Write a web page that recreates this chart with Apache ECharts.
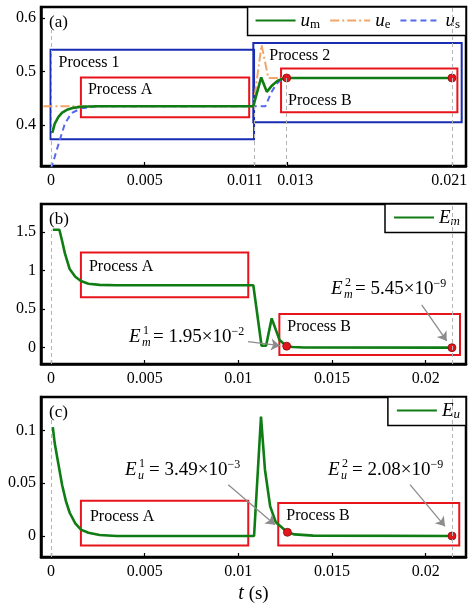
<!DOCTYPE html>
<html>
<head>
<meta charset="utf-8">
<script src="https://cdn.jsdelivr.net/npm/echarts@6.0.0/dist/echarts.min.js"></script>
<style>html,body{margin:0;padding:0;background:#fff}#main{width:474px;height:611px}</style>
</head>
<body>
<div id="main"></div>
<script>
// data, t in seconds
var uM = [[0.00007,0.385],[0.0002,0.402],[0.0004,0.415],[0.0006,0.423],[0.0009,0.429],[0.0012,0.432],[0.0016,0.434],[0.0025,0.435],[0.0108,0.435],[0.01122,0.489],[0.01152,0.462],[0.0118,0.474],[0.0121,0.483],[0.0124,0.487],[0.0128,0.488],[0.0214,0.488]];
var uE = [[-0.0004,0.435],[0.0108,0.435],[0.01124,0.55],[0.0116,0.488],[0.0214,0.488]];
var uS = [[0,0.318],[0.0002,0.34],[0.0005,0.375],[0.00075,0.403],[0.0011,0.422],[0.0016,0.431],[0.0025,0.435],[0.01145,0.435],[0.0116,0.448],[0.01178,0.462],[0.01204,0.477],[0.0123,0.485],[0.0127,0.488],[0.0214,0.488]];
var eM = [[0.0001,1.53],[0.00045,1.53],[0.0006,1.38],[0.00075,1.22],[0.001,1.02],[0.0013,0.92],[0.0016,0.865],[0.002,0.83],[0.0026,0.815],[0.0035,0.81],[0.0108,0.81],[0.01124,0.025],[0.01148,0.025],[0.01178,0.38],[0.0122,0.1],[0.01258,0.0195],[0.0129,0.008],[0.0135,0.002],[0.0214,0]];
var eU = [[0.0001,0.103],[0.0002,0.088],[0.0004,0.068],[0.0006,0.048],[0.0008,0.033],[0.001,0.022],[0.0013,0.012],[0.0016,0.006],[0.002,0.003],[0.0026,0.001],[0.0035,0],[0.01084,0],[0.01121,0.113],[0.01142,0.063],[0.0117,0.028],[0.012,0.013],[0.01262,0.0035],[0.013,0.0015],[0.014,0.0003],[0.0214,0]];
var dotsA = [[0.01258,0.488],[0.0214,0.488]];
var dotsB = [[0.01258,0.0195],[0.0214,0]];
var dotsC = [[0.01262,0.0035],[0.0214,0]];

// ticks
var tickA = [0,0.005,0.01084,0.01262,0.0214];
var labelPosA = [0,0.005,0.01034,0.01304,0.02126];
var labelTextA = ['0','0.005','0.011','0.013','0.021'];
var tickBC = [0,0.005,0.01,0.015,0.02];
var yTickA = [0.4,0.5,0.6];
var yTickB = [0,0.5,1,1.5];
var yTickC = [0,0.05,0.1];

// boxes: name, t0, t1, v0, v1
var blueA = [['Process 1',-0.00002,0.01084,0.3732,0.5407],['Process 2',0.0108,0.02192,0.4051,0.5533]];
var redA = [['Process A',0.0016,0.01058,0.4144,0.4887],['Process B',0.01228,0.02169,0.4238,0.5056]];
var redB = [['Process A',0.0016,0.01053,0.655,1.234],['Process B',0.01219,0.02183,-0.095,0.438]];
var redC = [['Process A',0.0016,0.01053,-0.0089,0.0334],['Process B',0.01213,0.02179,-0.0089,0.0313]];

// gray guide lines: t, v0, v1
var guideA = [[0,0.323,0.578],[0.01084,0.323,0.435],[0.01258,0.323,0.488],[0.0214,0.323,0.621]];
var guideB = [[0,-0.212,1.53],[0.0214,-0.212,1.864]];
var guideC = [[0,-0.0199,0.12],[0.0214,-0.0199,0.1316]];

// arrows: from, to
var arrowB = [[[0.010515,0.078],[0.012223,0.026]],[[0.019786,0.5545],[0.021121,0.087]]];
var arrowC = [[[0.009463,0.0486],[0.011956,0.0107]],[[0.019162,0.0486],[0.02103,0.0091]]];

var FONT = '"Liberation Serif", "Times New Roman", serif';
var GREEN = '#0f7d14', ORANGE = '#f2a566', BLUE = '#5468ee', BOXBLUE = '#1a2db2', BOXRED = '#e8141c';

var myChart = echarts.init(document.getElementById('main'));

function xAxisOf(i, ticks, labels, fmt) {
  return {
    type: 'value', gridIndex: i, min: -0.00053, max: 0.02215,
    splitLine: { show: false },
    axisLine: { show: true, onZero: false, lineStyle: { color: '#000', width: 2.5 } },
    axisTick: { show: true, inside: true, length: 4, customValues: ticks, lineStyle: { color: '#000', width: 1.2 } },
    axisLabel: { customValues: labels, formatter: fmt, fontSize: 16, color: '#000', margin: 7, fontFamily: FONT }
  };
}
function yAxisOf(i, mn, mx, ticks) {
  return {
    type: 'value', gridIndex: i, min: mn, max: mx,
    splitLine: { show: false },
    axisLine: { show: true, onZero: false, lineStyle: { color: '#000', width: 2.5 } },
    axisTick: { show: true, inside: true, length: 4, customValues: ticks, lineStyle: { color: '#000', width: 1.2 } },
    axisLabel: { customValues: ticks, fontSize: 16, color: '#000', margin: 5, fontFamily: FONT }
  };
}
function boxData(list, color, offsets, positions) {
  return list.map(function (b, k) {
    return [{
      coord: [b[1], b[4]],
      itemStyle: { color: 'rgba(0,0,0,0)', borderColor: color, borderWidth: 2 },
      label: { show: true, formatter: b[0], position: positions[k], distance: 0, offset: offsets[k],
        fontSize: 16, color: '#000', fontFamily: FONT }
    }, { coord: [b[2], b[3]] }];
  });
}
function guideData(list) {
  return list.map(function (g) { return [{ coord: [g[0], g[1]] }, { coord: [g[0], g[2]] }]; });
}
function arrowData(list) {
  return list.map(function (a) { return [{ coord: a[0] }, { coord: a[1] }]; });
}
function helper(i, boxes, guides) {
  return {
    type: 'scatter', xAxisIndex: i, yAxisIndex: i, data: [], symbolSize: 0, z: 1, silent: true,
    markArea: { silent: true, data: boxes },
    markLine: { silent: true, symbol: ['none', 'none'], label: { show: false },
      lineStyle: { color: '#b4b4b4', width: 1, type: [4, 3] }, data: guideData(guides) }
  };
}
function dots(i, data, arrows) {
  var s = {
    type: 'scatter', xAxisIndex: i, yAxisIndex: i, data: data, z: 4, symbolSize: 8,
    itemStyle: { color: '#e3161c', borderColor: '#8a0a0a', borderWidth: 0.8, opacity: 1 }
  };
  if (arrows) {
    s.markLine = { silent: true, symbol: ['none', 'arrow'], symbolSize: 9, label: { show: false },
      lineStyle: { color: '#8c8c8c', width: 1.3, type: 'solid' }, data: arrowData(arrows) };
  }
  return s;
}
function curve(i, name, data, color, type, width) {
  return {
    name: name, type: 'line', xAxisIndex: i, yAxisIndex: i, data: data, symbol: 'none', z: 3,
    lineStyle: { color: color, width: width, type: type }, itemStyle: { color: color }
  };
}
function txt(x, y, s, size, italic) {
  return { type: 'text', x: x, y: y, z: 10, style: { text: s, fontFamily: FONT, fontSize: size,
    fontStyle: italic ? 'italic' : 'normal', fill: '#000', verticalAlign: 'middle', textVerticalAlign: 'middle' } };
}
function note(x, y, sup, sub, rest, exp) {
  return { type: 'group', x: x, y: y, children: [
    txt(0, 0, 'E', 19, true),
    txt(14, -6, sup, 12, false),
    txt(13, 6, sub, 12, true),
    { type: 'text', x: 24, y: 0, z: 10, style: {
      text: rest + '{e|' + exp + '}', fontFamily: FONT, fontSize: 19, lineHeight: 22, fill: '#000',
      verticalAlign: 'middle', textVerticalAlign: 'middle',
      rich: { e: { fontFamily: FONT, fontSize: 12, lineHeight: 10, verticalAlign: 'top', fill: '#000' } } } }
  ] };
}

var legendRich = {
  i: { fontFamily: FONT, fontStyle: 'italic', fontSize: 19, lineHeight: 22, color: '#000' },
  s: { fontFamily: FONT, fontSize: 13, lineHeight: 9, verticalAlign: 'bottom', color: '#000' },
  si: { fontFamily: FONT, fontStyle: 'italic', fontSize: 13, lineHeight: 9, verticalAlign: 'bottom', color: '#000' }
};
var legendNames = { um: '{i|u}{s|m}', ue: '{i|u}{s|e}', us: '{i|u}{s|s}', Em: '{i|E}{si|m}', Eu: '{i|E}{si|u}' };
function legendOf(names, top, padding, gap) {
  return {
    data: names, right: 8, top: top, orient: 'horizontal', itemWidth: 40, itemHeight: 14, itemGap: gap,
    padding: padding, borderColor: '#000', borderWidth: 1.5, backgroundColor: '#fff', borderRadius: 0,
    selectedMode: false, z: 5,
    itemStyle: { opacity: 0 },
    lineStyle: { opacity: 1 },
    formatter: function (n) { return legendNames[n]; },
    textStyle: { rich: legendRich }
  };
}

var option = {
  animation: false,
  textStyle: { fontFamily: FONT },
  grid: [
    { left: 41, right: 8, top: 7, height: 159, show: true, borderColor: '#000', borderWidth: 2.5, outerBoundsMode: 'none' },
    { left: 41, right: 8, top: 204, height: 160, show: true, borderColor: '#000', borderWidth: 2.5, outerBoundsMode: 'none' },
    { left: 41, right: 8, top: 397, height: 160, show: true, borderColor: '#000', borderWidth: 2.5, outerBoundsMode: 'none' }
  ],
  legend: [
    legendOf(['um', 'ue', 'us'], 7, [4, 6, 4, 7], 9),
    legendOf(['Em'], 204, [4, 6, 4, 8], 0),
    legendOf(['Eu'], 397, [4, 6, 4, 8], 0)
  ],
  xAxis: [
    xAxisOf(0, tickA, labelPosA, function (v) {
      for (var k = 0; k < labelPosA.length; k++) { if (Math.abs(labelPosA[k] - v) < 1e-7) return labelTextA[k]; }
      return '';
    }),
    xAxisOf(1, tickBC, tickBC),
    (function () {
      var ax = xAxisOf(2, tickBC, tickBC);
      ax.name = '{i|t} (s)';
      ax.nameLocation = 'middle';
      ax.nameGap = 27;
      ax.nameTextStyle = { fontFamily: FONT, fontSize: 19, color: '#000',
        rich: { i: { fontFamily: FONT, fontStyle: 'italic', fontSize: 20, color: '#000' } } };
      return ax;
    })()
  ],
  yAxis: [
    yAxisOf(0, 0.323, 0.621, yTickA),
    yAxisOf(1, -0.212, 1.864, yTickB),
    yAxisOf(2, -0.0199, 0.1316, yTickC)
  ],
  series: [
    helper(0, boxData(blueA, BOXBLUE, [[9, 6], [17, 6]], ['insideTopLeft', 'insideTopLeft'])
      .concat(boxData(redA, BOXRED, [[8, 5], [8, -4]], ['insideTopLeft', 'insideBottomLeft'])), guideA),
    curve(0, 'ue', uE, ORANGE, [9, 3, 2, 3], 2),
    curve(0, 'us', uS, BLUE, [6, 4], 2),
    curve(0, 'um', uM, GREEN, 'solid', 2.6),
    dots(0, dotsA),

    helper(1, boxData(redB, BOXRED, [[9, 7], [9, 6]], ['insideTopLeft', 'insideTopLeft']), guideB),
    curve(1, 'Em', eM, GREEN, 'solid', 2.6),
    dots(1, dotsB, arrowB),

    helper(2, boxData(redC, BOXRED, [[10, 9], [9, 6]], ['insideTopLeft', 'insideTopLeft']), guideC),
    curve(2, 'Eu', eU, GREEN, 'solid', 2.6),
    dots(2, dotsC, arrowC)
  ],
  graphic: [
    txt(49, 23, '(a)', 17, false),
    txt(49, 220, '(b)', 17, false),
    txt(49, 413, '(c)', 17, false),
    note(129, 337, '1', 'm', '= 1.95×10', '−2'),
    note(331, 289, '2', 'm', '= 5.45×10', '−9'),
    note(125, 470, '1', 'u', '= 3.49×10', '−3'),
    note(328, 470, '2', 'u', '= 2.08×10', '−9')
  ]
};
myChart.setOption(option);
</script>
</body>
</html>
